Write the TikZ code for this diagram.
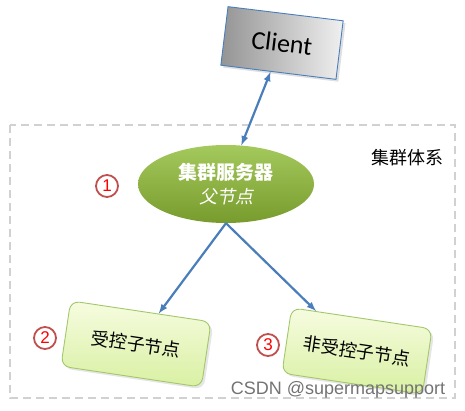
\documentclass[tikz,border=0pt]{standalone}
\usepackage{fontspec}
\setmainfont{Carlito}
\newfontfamily\cjk{Noto Sans CJK SC}
\newfontfamily\cjkit[FakeSlant=0.2]{Noto Sans CJK SC}
\newfontfamily\wmfont{Liberation Sans}
\usetikzlibrary{shapes.geometric,shadows}
\definecolor{linkblue}{HTML}{4A7EBB}
\definecolor{numred}{HTML}{C0504D}
\definecolor{leafedge}{HTML}{A3C86A}
\definecolor{leaftop}{HTML}{F6FCE0}
\definecolor{leafbot}{HTML}{D9F0A2}
\definecolor{rootTop}{HTML}{A4C95C}
\definecolor{rootBot}{HTML}{789B2D}

\begin{document}
\begin{tikzpicture}[x=1pt,y=-1pt,
    link/.style={draw=linkblue, line width=2.2pt, >=latex},
    leafbox/.style={draw=leafedge, line width=0.9pt, rounded corners=9pt,
      top color=leaftop, bottom color=leafbot, minimum width=142pt,
      minimum height=66pt, rotate=-8.5, drop shadow={opacity=0.2},
      font=\cjk\fontsize{18}{18}\selectfont},
    numtag/.style={circle, draw=numred, line width=1.8pt, text=red,
      inner sep=0pt, minimum size=22pt, font=\wmfont\fontsize{17}{17}\selectfont}]
  \useasboundingbox (0,0) rectangle (465,410);

  % cluster frame
  \draw[draw=black!18, line width=2pt, dash pattern=on 8pt off 5pt] (10,125) rectangle (455,398);
  \node[font=\cjk\fontsize{18}{18}\selectfont] (clustername) at (407,158) {集群体系};

  % client
  \node[draw=linkblue, line width=0.9pt, left color=black!42, right color=black!6,
        minimum width=116pt, minimum height=59pt, rotate=-7,
        drop shadow={opacity=0.25}, font=\fontsize{26}{26}\selectfont] (client) at (282,43) {Client};

  % server and children
  \node[ellipse, top color=rootTop, bottom color=rootBot, minimum width=176pt,
        minimum height=78pt, text=white, align=center] (server) at (226,184)
        {{\cjk\bfseries\fontsize{19}{19}\selectfont 集群服务器}\\[6pt]{\cjkit\fontsize{18}{18}\selectfont 父节点}};
  \node[leafbox] (ctrl) at (136,344) {受控子节点};
  \node[leafbox] (free) at (357,351) {非受控子节点};

  \draw[link, <->] (client) -- (server);
  \draw[link, ->] (server.south) -- (ctrl);
  \draw[link, ->] (server.south) -- (free);

  % numbers
  \node[numtag] (n1) at (107,186) {1};
  \node[numtag] (n2) at (45,338) {2};
  \node[numtag] (n3) at (268,345) {3};

  \node[text=black!55, font=\wmfont\fontsize{18}{18}\selectfont] (mark) at (338,390) {CSDN @supermapsupport};
\end{tikzpicture}
\end{document}
